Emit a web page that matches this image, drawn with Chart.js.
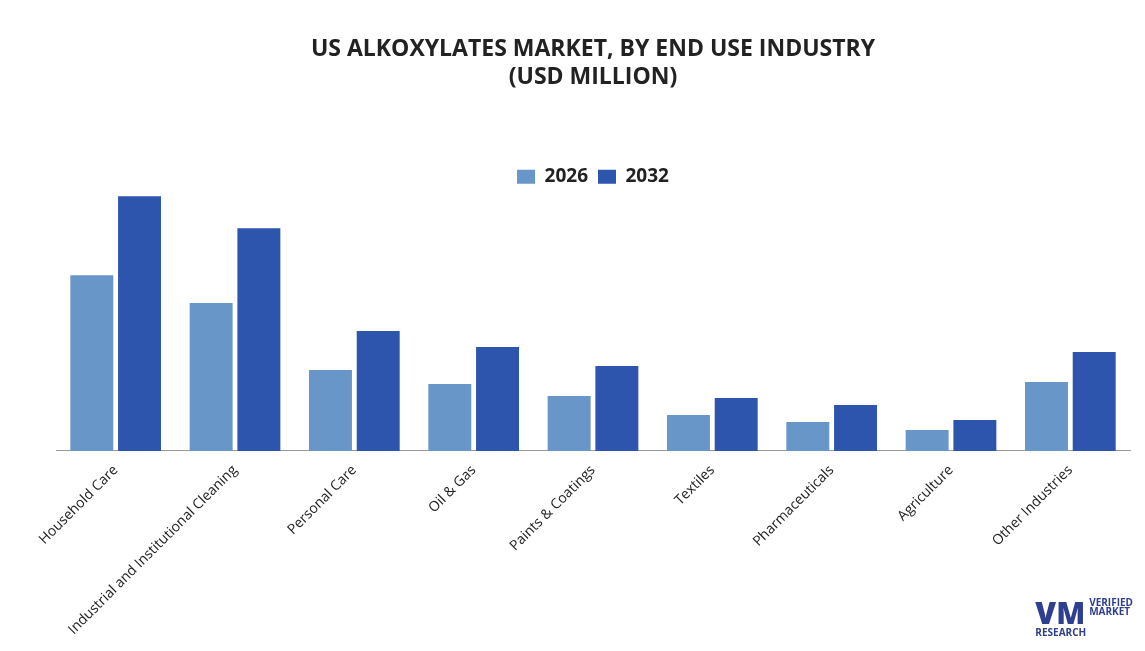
<!DOCTYPE html>
<html>
<head>
<meta charset="utf-8">
<script src="https://cdn.jsdelivr.net/npm/chart.js@4"></script>
<style>
  html, body { margin: 0; padding: 0; background: #fff; }
  #wrap { position: relative; width: 1145px; height: 651px; }
  #logo { position: absolute; right: 12px; bottom: 14px; font: bold 10px "Open Sans", sans-serif; color: #2f3f8f; line-height: 9px; }
  #logo b { font-size: 30px; float: left; margin-right: 4px; line-height: 30px; }
</style>
</head>
<body>
<div id="wrap">
  <canvas id="chart" width="1145" height="651"></canvas>
  <div id="logo"><b>VM</b>VERIFIED<br>MARKET<br>RESEARCH</div>
</div>
<script>
// Kategori industri
const categories = [
  'Household Care', 'Industrial and Institutional Cleaning', 'Personal Care',
  'Oil & Gas', 'Paints & Coatings', 'Textiles', 'Pharmaceuticals',
  'Agriculture', 'Other Industries'
];
// Nilai dibaca dari tinggi batang (skala relatif)
const values2026 = [176, 148, 81, 67, 55, 36, 29, 21, 69];
const values2032 = [259, 223, 120, 104, 85, 53, 46, 31, 99];

const ctx = document.getElementById('chart').getContext('2d');
new Chart(ctx, {
  type: 'bar',
  data: {
    labels: categories,
    datasets: [
      { label: '2026', data: values2026, backgroundColor: '#6896c8' },
      { label: '2032', data: values2032, backgroundColor: '#2e55ad' }
    ]
  },
  options: {
    responsive: false,
    animation: false,
    layout: { padding: { left: 56, right: 15, top: 36, bottom: 10 } },
    plugins: {
      title: {
        display: true,
        text: ['US ALKOXYLATES MARKET, BY END USE INDUSTRY', '(USD MILLION)'],
        color: '#222',
        font: { family: 'Open Sans', size: 23, weight: 'bold' },
        padding: { bottom: 66 }
      },
      legend: {
        labels: {
          color: '#222',
          font: { family: 'Open Sans', size: 19, weight: 'bold' },
          boxWidth: 18, boxHeight: 14
        }
      },
      tooltip: { enabled: false }
    },
    scales: {
      x: {
        grid: { display: false },
        border: { color: '#999' },
        categoryPercentage: 0.74,
        barPercentage: 0.92,
        ticks: {
          color: '#222',
          minRotation: 45, maxRotation: 45,
          font: { family: 'Open Sans', size: 14 }
        }
      },
      y: {
        display: false,
        min: 0,
        max: 255
      }
    }
  }
});
</script>
</body>
</html>
